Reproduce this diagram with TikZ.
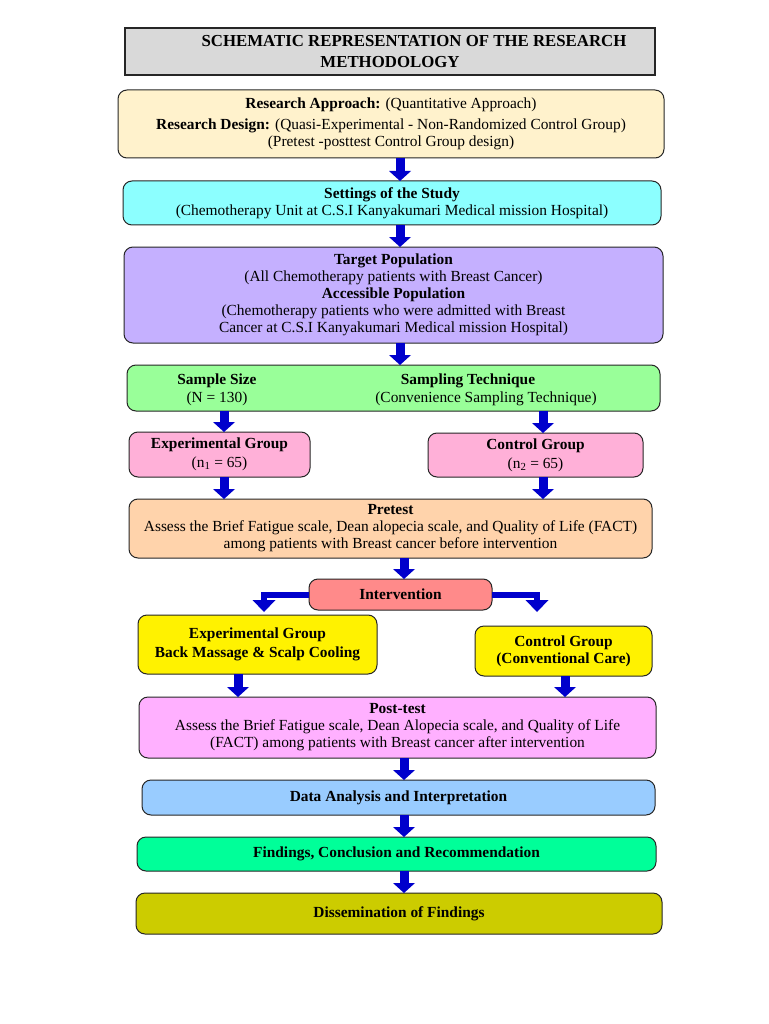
\documentclass[tikz,border=0pt]{standalone}
\usepackage{fontspec}
\setmainfont{Liberation Serif}
\usetikzlibrary{arrows.meta}
\definecolor{arrowblue}{HTML}{0000CC}
\definecolor{titlegray}{HTML}{D9D9D9}
\definecolor{cream}{HTML}{FFF2CC}
\definecolor{lightcyan}{HTML}{8CFFFF}
\definecolor{lavender}{HTML}{C5B0FF}
\definecolor{lightgreen}{HTML}{99FF99}
\definecolor{pinkbox}{HTML}{FFB0D8}
\definecolor{peach}{HTML}{FFD3AB}
\definecolor{salmon}{HTML}{FF8A8A}
\definecolor{magentabox}{HTML}{FFB0FF}
\definecolor{skyblue}{HTML}{99CCFF}
\definecolor{mintgreen}{HTML}{00FF99}
\definecolor{olive}{HTML}{CCCC00}
\begin{document}
\begin{tikzpicture}[x=1pt,y=-1pt]
			\tikzstyle{every node}+=[inner sep=0pt, outer sep=0pt]
			\tikzstyle{box}=[draw=black!85, line width=1pt, rounded corners=9pt, align=center, font=\fontsize{15.4}{17}\selectfont]
			\tikzstyle{flowarrow}=[draw=arrowblue, line width=9pt, -{Triangle[width=22pt,length=10pt,line width=0pt]}]
			\tikzstyle{splitarrow}=[draw=arrowblue, line width=6pt, -{Triangle[width=23pt,length=12pt,line width=0pt]}]
			\useasboundingbox [fill=white] (0,0) rectangle (768,1024);
			\node [draw=black!85, line width=1.2pt, fill=titlegray, minimum width=530, minimum height=47, align=center, font=\fontsize{16.8}{21}\selectfont\bfseries] (title) at (390,51.5) {\hspace*{48pt}SCHEMATIC REPRESENTATION OF THE RESEARCH\\METHODOLOGY};
			\node [box, fill=cream, minimum width=546, minimum height=68, font=\fontsize{15.4}{17.5}\selectfont] (appr) at (391,124) {\textbf{Research Approach:} (Quantitative Approach)\\[3pt]\textbf{Research Design:} (Quasi-Experimental - Non-Randomized Control Group)\\(Pretest -posttest Control Group design)};
			\node [box, fill=lightcyan, minimum width=538, minimum height=44] (sett) at (392,203) {\textbf{Settings of the Study}\\(Chemotherapy Unit at C.S.I Kanyakumari Medical mission Hospital)};
			\node [box, fill=lavender, minimum width=539, minimum height=96] (popn) at (393.5,295) {\textbf{Target Population}\\(All Chemotherapy patients with Breast Cancer)\\\textbf{Accessible Population}\\(Chemotherapy patients who were admitted with Breast\\Cancer at C.S.I Kanyakumari Medical mission Hospital)};
			\node [box, fill=lightgreen, minimum width=533, minimum height=46] (samp) at (393.5,388) {};
			\node [align=center, font=\fontsize{15.4}{18}\selectfont] (size) at (217,390) {\textbf{Sample Size}\\(N = 130)};
			\node [align=center, font=\fontsize{15.4}{18}\selectfont] (tech) at (486,390) {\textbf{Sampling Technique}\hspace*{36pt}\\(Convenience Sampling Technique)};
			\node [box, fill=pinkbox, minimum width=181, minimum height=45, font=\fontsize{15.4}{19}\selectfont] (expg) at (219.5,454.5) {\textbf{Experimental Group}\\(n\textsubscript{1} = 65)};
			\node [box, fill=pinkbox, minimum width=215, minimum height=44, font=\fontsize{15.4}{19}\selectfont] (ctlg) at (535.5,455) {\textbf{Control Group}\\(n\textsubscript{2} = 65)};
			\node [box, fill=peach, minimum width=523, minimum height=59] (pre) at (390.5,528.5) {\textbf{Pretest}\\Assess the Brief Fatigue scale, Dean alopecia scale, and Quality of Life (FACT)\\among patients with Breast cancer before intervention};
			\node [box, fill=salmon, minimum width=183, minimum height=31, font=\fontsize{15.4}{17}\selectfont\bfseries] (intv) at (400.5,594.5) {Intervention};
			\node [box, fill=yellow, minimum width=239, minimum height=59, font=\fontsize{15.4}{19}\selectfont\bfseries] (expi) at (257.5,644.5) {Experimental Group\\Back Massage \& Scalp Cooling};
			\node [box, fill=yellow, minimum width=177, minimum height=50, font=\fontsize{15.4}{17}\selectfont\bfseries] (ctli) at (563.5,651) {Control Group\\(Conventional Care)};
			\node [box, fill=magentabox, minimum width=517, minimum height=61] (post) at (397.5,727.5) {\textbf{Post-test}\\Assess the Brief Fatigue scale, Dean Alopecia scale, and Quality of Life\\(FACT) among patients with Breast cancer after intervention};
			\node [box, fill=skyblue, minimum width=513, minimum height=35, font=\fontsize{15.4}{17}\selectfont\bfseries] (anal) at (398.5,797.5) {Data Analysis and Interpretation};
			\node [box, fill=mintgreen, minimum width=519, minimum height=34, font=\fontsize{15.4}{17}\selectfont\bfseries] (find) at (396.5,854) {Findings, Conclusion and Recommendation};
			\node [box, fill=olive, minimum width=526, minimum height=41, font=\fontsize{15.4}{17}\selectfont\bfseries] (diss) at (399,913.5) {Dissemination of Findings};
			\coordinate (ltip) at (264,612);
			\coordinate (rtip) at (537,612);
			\draw [flowarrow] ([xshift=9pt]appr.south) -- ([xshift=8pt]sett.north);
			\draw [flowarrow] ([xshift=8pt]sett.south) -- ([xshift=6.5pt]popn.north);
			\draw [flowarrow] ([xshift=6.5pt]popn.south) -- ([xshift=6.5pt]samp.north);
			\draw [flowarrow] ([xshift=4.5pt]expg.north |- samp.south) -- ([xshift=4.5pt]expg.north);
			\draw [flowarrow] ([xshift=7.5pt]ctlg.north |- samp.south) -- ([xshift=7.5pt]ctlg.north);
			\draw [flowarrow] ([xshift=4.5pt]expg.south) -- ([xshift=4.5pt]expg.south |- pre.north);
			\draw [flowarrow] ([xshift=7.5pt]ctlg.south) -- ([xshift=7.5pt]ctlg.south |- pre.north);
			\draw [flowarrow] ([xshift=3.5pt]intv.north |- pre.south) -- ([xshift=3.5pt]intv.north);
			\draw [splitarrow] (intv.west) -| (ltip);
			\draw [splitarrow] (intv.east) -| (rtip);
			\draw [flowarrow] ([xshift=-19.5pt]expi.south) -- ([xshift=-19.5pt]expi.south |- post.north);
			\draw [flowarrow] ([xshift=1.5pt]ctli.south) -- ([xshift=1.5pt]ctli.south |- post.north);
			\draw [flowarrow] ([xshift=5.5pt]anal.north |- post.south) -- ([xshift=5.5pt]anal.north);
			\draw [flowarrow] ([xshift=5.5pt]anal.south) -- ([xshift=7.5pt]find.north);
			\draw [flowarrow] ([xshift=7.5pt]find.south) -- ([xshift=5pt]diss.north);
\end{tikzpicture}
\end{document}
